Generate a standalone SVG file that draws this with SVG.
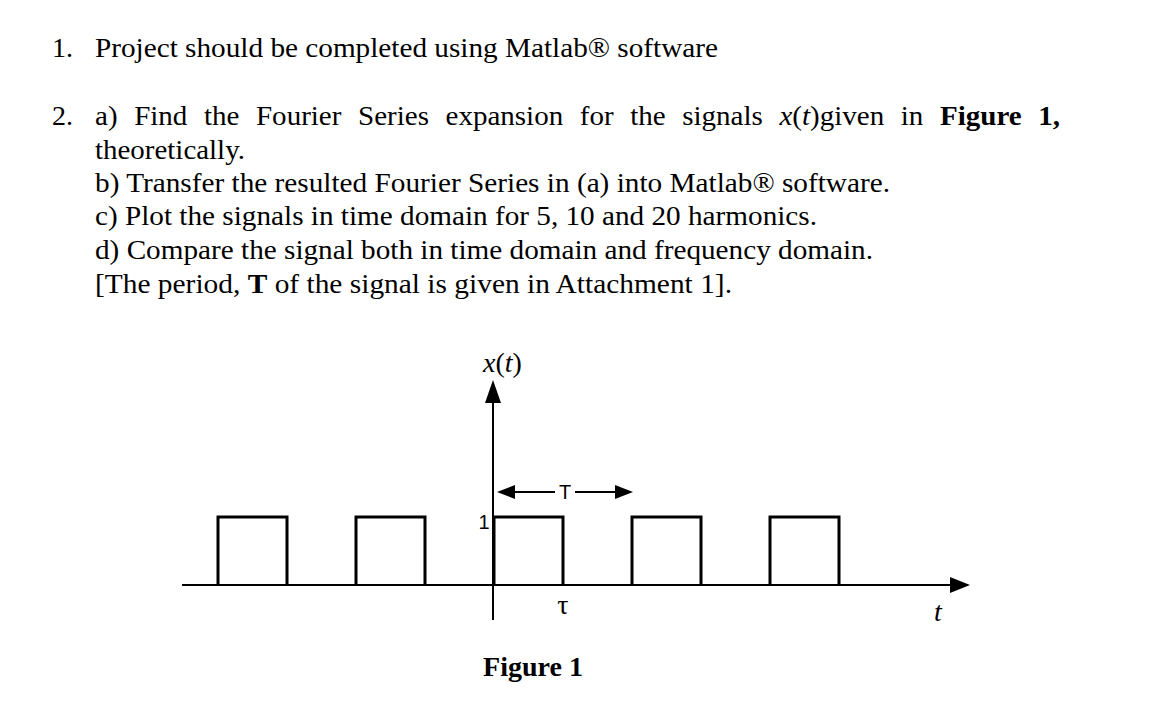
<svg xmlns="http://www.w3.org/2000/svg" width="1158" height="706" viewBox="0 0 1158 706">
<style>
.t{font-family:"Liberation Serif",serif;font-size:28px;fill:#000}
.s{font-family:"Liberation Sans",sans-serif;font-size:20px;fill:#000}
.p{fill:none;stroke:#000;stroke-width:3}
.a{stroke:#000;stroke-width:2;fill:none}
</style>
<rect width="1158" height="706" fill="#fff"/>
<g id="text">
<text class="t" x="52" y="57">1.</text>
<text class="t" x="95" y="57" textLength="623" lengthAdjust="spacingAndGlyphs">Project should be completed using Matlab® software</text>
<text class="t" x="52" y="125">2.</text>
<text class="t" x="95" y="125" word-spacing="9" textLength="965" lengthAdjust="spacingAndGlyphs">a) Find the Fourier Series expansion for the signals <tspan font-style="italic">x</tspan>(<tspan font-style="italic">t</tspan>)given in <tspan font-weight="bold">Figure 1,</tspan></text>
<text class="t" x="95" y="159" textLength="150" lengthAdjust="spacingAndGlyphs">theoretically.</text>
<text class="t" x="95" y="192" textLength="795" lengthAdjust="spacingAndGlyphs">b) Transfer the resulted Fourier Series in (a) into Matlab® software.</text>
<text class="t" x="95" y="225" textLength="722" lengthAdjust="spacingAndGlyphs">c) Plot the signals in time domain for 5, 10 and 20 harmonics.</text>
<text class="t" x="95" y="259" textLength="778" lengthAdjust="spacingAndGlyphs">d) Compare the signal both in time domain and frequency domain.</text>
<text class="t" x="95" y="293" textLength="637" lengthAdjust="spacingAndGlyphs">[The period, <tspan font-weight="bold">T</tspan> of the signal is given in Attachment 1].</text>
</g>
<g id="signal">
<path class="p" d="M218 585V517H287V585M356 585V517H425V585M494 585V517H563V585M632 585V517H701V585M770 585V517H839V585"/>
</g>
<g id="connectors">
<line class="a" x1="182" y1="585" x2="952" y2="585"/>
<polygon points="970,585 950,577 950,593" fill="#000"/>
<line class="a" x1="493" y1="620" x2="493" y2="400"/>
<polygon points="493,380 485,403 501,403" fill="#000"/>
<line class="a" x1="515" y1="492" x2="555" y2="492"/>
<polygon points="497,492 515,485 515,499" fill="#000"/>
<line class="a" x1="575" y1="492" x2="615" y2="492"/>
<polygon points="633,492 615,485 615,499" fill="#000"/>
</g>
<g id="labels">
<text class="t" x="483" y="372" font-style="italic" font-size="26">x<tspan font-style="normal">(</tspan>t<tspan font-style="normal">)</tspan></text>
<text class="s" x="565" y="499" text-anchor="middle">T</text>
<text class="s" x="484" y="529" text-anchor="middle">1</text>
<text class="t" x="563" y="614" text-anchor="middle" font-size="20">τ</text>
<text class="t" x="938" y="621" text-anchor="middle" font-style="italic" font-size="24">t</text>
<text class="t" x="533" y="676" text-anchor="middle" font-weight="bold" font-size="26">Figure 1</text>
</g>
</svg>
